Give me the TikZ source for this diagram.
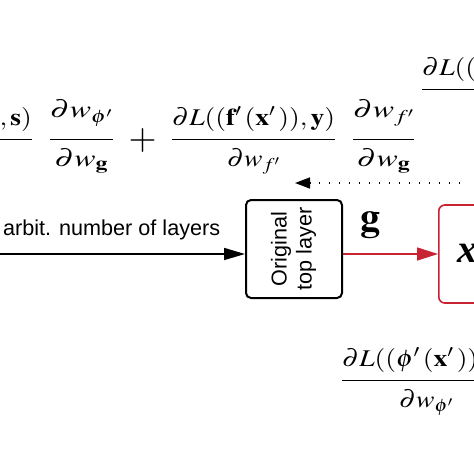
\documentclass[tikz,border=0pt]{standalone}
\usepackage{mathptmx}
\usepackage{graphicx}
\usepackage[no-math]{fontspec}
\newfontfamily\sansf{Liberation Sans}
\newfontfamily\serf{Liberation Serif}
\usetikzlibrary{arrows.meta}
\definecolor{cred}{RGB}{200,35,50}
\DeclareMathSizes{24}{24}{18}{14}
\newcommand{\myfrac}[4][1.15]{\scalebox{#1}[1]{$\lower\fontdimen22\textfont2\hbox{$\displaystyle\frac{#3\rule[-#2]{0pt}{#2}}{\rule{0pt}{24pt}#4}$}$}}
\begin{document}
\setlength{\nulldelimiterspace}{0pt}
\begin{tikzpicture}[x=1pt,y=-1pt,
  mathtxt/.style={inner sep=0pt, font=\fontsize{24}{28}\selectfont},
  bigtxt/.style={inner sep=0pt, font=\fontsize{40}{44}\selectfont},
  labtxt/.style={inner sep=0pt, font=\sansf\fontsize{21.6}{25}\selectfont},
  layerbox/.style={draw=black, line width=2pt, rounded corners=5pt, minimum width=96pt, minimum height=98pt, inner sep=0pt, font=\sansf\fontsize{21.6}{25}\selectfont},
  redbox/.style={draw=cred, line width=1.6pt, rounded corners=6pt, minimum width=110pt, minimum height=98pt, inner sep=0pt},
  blackarrow/.style={draw=black, line width=1.6pt, -{Triangle[length=21pt,width=12pt]}},
  redarrow/.style={draw=cred, line width=1.6pt, -{Triangle[length=21pt,width=13pt]}},
  dotarrow/.style={draw=black, line width=1.5pt, dash pattern=on 1.5pt off 8.5pt, -{Triangle[length=15pt,width=11pt]}}
]
\useasboundingbox[fill=white] (0,0) rectangle (474,474);

% top formula row
\node[mathtxt, anchor=base east] (fa) at (32,139) {\myfrac{10pt}{\partial L((\phi^{\prime}\,(\mathbf{x}^{\prime}\,)),\mathbf{s})}{\partial w_{\phi^{\prime}}}};
\node[mathtxt, anchor=base west] (fb) at (50,139) {\myfrac[1.33]{18pt}{\partial w_{\phi^{\prime}}}{\partial w_{\mathbf{g}}}};
\node[inner sep=0pt, font=\fontsize{36}{40}\selectfont] (plus) at (142.5,140.5) {$+$};
\node[mathtxt, anchor=base west] (fc) at (172,139) {\myfrac{10pt}{\partial L((\mathbf{f}^{\prime}\,(\mathbf{x}^{\prime}\,)),\mathbf{y})}{\partial w_{f^{\prime}}}};
\node[mathtxt, anchor=base west] (fd) at (353,139) {\myfrac[1.33]{18pt}{\partial w_{f^{\prime}}}{\partial w_{\mathbf{g}}}};
\node[mathtxt, anchor=base west] (fe) at (422,89) {\myfrac{10pt}{\partial L((\phi^{\prime}\,(\mathbf{x}^{\prime}\,)),\mathbf{s})}{\partial w_{\phi^{\prime}}}};

% dotted arrow
\coordinate (d1) at (460,183);
\coordinate (d2) at (295,183);
\draw[dotarrow] (d1) -- (d2);

% main row
\node[labtxt, anchor=base west] (lbl) at (3,235) {arbit. number of layers};
\node[layerbox] (top) at (294,249) {\rotatebox{90}{\begin{tabular}{@{}c@{}}Original\\top layer\end{tabular}}};
\node[redbox, anchor=west] (red) at (438,254) {};
\node[inner sep=0pt, anchor=base west, font=\serf\bfseries\itshape\fontsize{40}{44}\selectfont] (xr) at (457,262) {x};
\coordinate (in) at (0,254);
\draw[blackarrow] (in) -- (top.west |- in);
\draw[redarrow] (top.east |- in) -- (red.west);
\node[bigtxt, anchor=base west] (g) at (360,230) {$\mathbf{g}$};

% bottom formula
\node[mathtxt, anchor=base west] (ff) at (342,380) {\myfrac{10pt}{\partial L((\phi^{\prime}\,(\mathbf{x}^{\prime}\,)),\mathbf{s})}{\partial w_{\phi^{\prime}}}};
\end{tikzpicture}
\end{document}
